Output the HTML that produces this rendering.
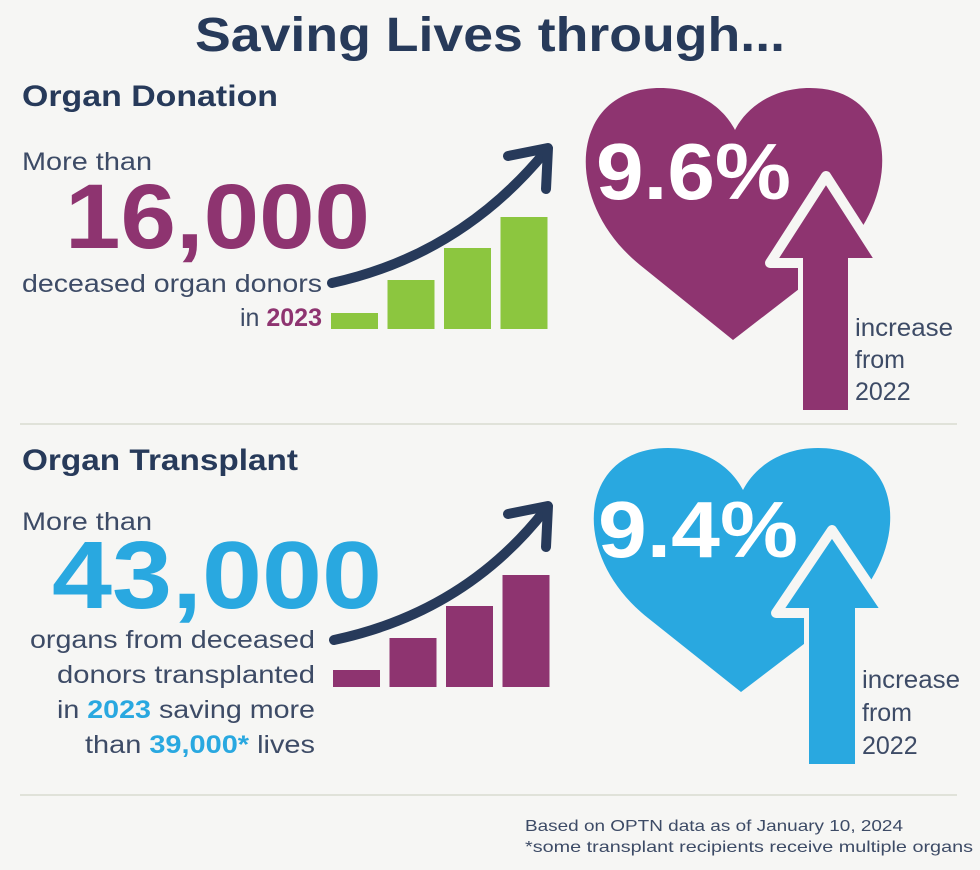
<!DOCTYPE html>
<html><head><meta charset="utf-8"><style>
html,body{margin:0;padding:0;background:#f6f6f4}
svg{display:block;font-family:"Liberation Sans",sans-serif}
</style></head><body>
<svg id="chart" width="980" height="870" viewBox="0 0 980 870">
<rect width="980" height="870" fill="#f6f6f4"/>
<text x="490" y="51" text-anchor="middle" font-size="48" font-weight="bold" fill="#273a5a" textLength="590" lengthAdjust="spacingAndGlyphs">Saving Lives through...</text>

<!-- Section 1 -->
<text x="22" y="106" font-size="30" font-weight="bold" fill="#273a5a" textLength="256" lengthAdjust="spacingAndGlyphs">Organ Donation</text>
<text x="22" y="170" font-size="25" fill="#3d4b66" textLength="130" lengthAdjust="spacingAndGlyphs">More than</text>
<text x="65" y="248" font-size="92" font-weight="bold" fill="#8e3470" textLength="305" lengthAdjust="spacingAndGlyphs">16,000</text>
<text x="322" y="292" text-anchor="end" font-size="25" fill="#3d4b66" textLength="300" lengthAdjust="spacingAndGlyphs">deceased organ donors</text>
<text x="322" y="326" text-anchor="end" font-size="25" fill="#3d4b66">in <tspan font-weight="bold" fill="#8e3470">2023</tspan></text>
<g id="bars1"></g>
<path d="M332,283 Q460,255 545,152" fill="none" stroke="#273a5a" stroke-width="10" stroke-linecap="round"/>
<path d="M508,156 L548,148 L546,189" fill="none" stroke="#273a5a" stroke-width="10" stroke-linecap="round" stroke-linejoin="round"/>

<g>
<path d="M733,340 L640,265 C560,200 570,88 660,88 C700,88 725,110 735,130 C745,110 770,88 810,88 C900,88 905,200 830,265 Z" fill="#8e3470"/>
<path d="M803,410 L803,263 L770,263 L826,176 L882,263 L848,263 L848,410 Z" fill="#8e3470" stroke="#f6f6f4" stroke-width="10" stroke-linejoin="round"/>
<path d="M803,410 L803,258 L848,258 L848,410 Z" fill="#8e3470"/>
</g>
<text x="596" y="199" font-size="80" font-weight="bold" fill="#fff" textLength="195" lengthAdjust="spacingAndGlyphs">9.6%</text>
<text x="855" y="336" font-size="25" fill="#3d4b66" textLength="98" lengthAdjust="spacingAndGlyphs">increase</text>
<text x="855" y="368" font-size="25" fill="#3d4b66">from</text>
<text x="855" y="400" font-size="25" fill="#3d4b66">2022</text>

<line x1="20" y1="424" x2="957" y2="424" stroke="#d8dbd0" stroke-width="1.5"/>

<!-- Section 2 -->
<text x="22" y="470" font-size="30" font-weight="bold" fill="#273a5a" textLength="276" lengthAdjust="spacingAndGlyphs">Organ Transplant</text>
<text x="22" y="530" font-size="25" fill="#3d4b66" textLength="130" lengthAdjust="spacingAndGlyphs">More than</text>
<text x="52" y="608" font-size="96" font-weight="bold" fill="#29a8e0" textLength="330" lengthAdjust="spacingAndGlyphs">43,000</text>
<text x="315" y="648" text-anchor="end" font-size="25" fill="#3d4b66" textLength="285" lengthAdjust="spacingAndGlyphs">organs from deceased</text>
<text x="315" y="683" text-anchor="end" font-size="25" fill="#3d4b66" textLength="258" lengthAdjust="spacingAndGlyphs">donors transplanted</text>
<text x="315" y="718" text-anchor="end" font-size="25" fill="#3d4b66" textLength="258" lengthAdjust="spacingAndGlyphs">in <tspan font-weight="bold" fill="#29a8e0">2023</tspan> saving more</text>
<text x="315" y="753" text-anchor="end" font-size="25" fill="#3d4b66" textLength="230" lengthAdjust="spacingAndGlyphs">than <tspan font-weight="bold" fill="#29a8e0">39,000*</tspan> lives</text>
<g id="bars2"></g>
<path d="M334,640 Q465,612 545,510" fill="none" stroke="#273a5a" stroke-width="10" stroke-linecap="round"/>
<path d="M508,514 L548,506 L546,547" fill="none" stroke="#273a5a" stroke-width="10" stroke-linecap="round" stroke-linejoin="round"/>

<g>
<path d="M741,692 L648,618 C568,555 578,448 668,448 C708,448 733,470 743,490 C753,470 778,448 818,448 C908,448 913,555 838,618 Z" fill="#29a8e0"/>
<path d="M809,764 L809,613 L776,613 L832,530 L888,613 L855,613 L855,764 Z" fill="#29a8e0" stroke="#f6f6f4" stroke-width="10" stroke-linejoin="round"/>
<path d="M809,764 L809,608 L855,608 L855,764 Z" fill="#29a8e0"/>
</g>
<text x="598" y="557" font-size="80" font-weight="bold" fill="#fff" textLength="200" lengthAdjust="spacingAndGlyphs">9.4%</text>
<text x="862" y="688" font-size="25" fill="#3d4b66" textLength="98" lengthAdjust="spacingAndGlyphs">increase</text>
<text x="862" y="721" font-size="25" fill="#3d4b66">from</text>
<text x="862" y="754" font-size="25" fill="#3d4b66">2022</text>

<line x1="20" y1="795" x2="957" y2="795" stroke="#d8dbd0" stroke-width="1.5"/>
<text x="525" y="831" font-size="16" fill="#3d4b66" textLength="378" lengthAdjust="spacingAndGlyphs">Based on OPTN data as of January 10,  2024</text>
<text x="525" y="852" font-size="16" fill="#3d4b66" textLength="448" lengthAdjust="spacingAndGlyphs">*some transplant recipients receive multiple organs</text>
</svg>
<script>
const donationCategories = ["b1","b2","b3","b4"];
const donationValues = [16, 49, 81, 112];
const transplantCategories = ["b1","b2","b3","b4"];
const transplantValues = [17, 49, 81, 112];

function drawBars(groupId, cats, vals, x0, step, w, baseY, color){
  const g = document.getElementById(groupId);
  const y = v => baseY - v;
  cats.forEach((c,i)=>{
    const r = document.createElementNS("http://www.w3.org/2000/svg","rect");
    r.setAttribute("x", x0 + i*step);
    r.setAttribute("y", y(vals[i]));
    r.setAttribute("width", w);
    r.setAttribute("height", baseY - y(vals[i]));
    r.setAttribute("fill", color);
    
    
    g.appendChild(r);
  });
}
drawBars("bars1", donationCategories, donationValues, 331, 56.5, 47, 329, "#8cc63f");
drawBars("bars2", transplantCategories, transplantValues, 333, 56.5, 47, 687, "#8e3470");
</script>
</body></html>
